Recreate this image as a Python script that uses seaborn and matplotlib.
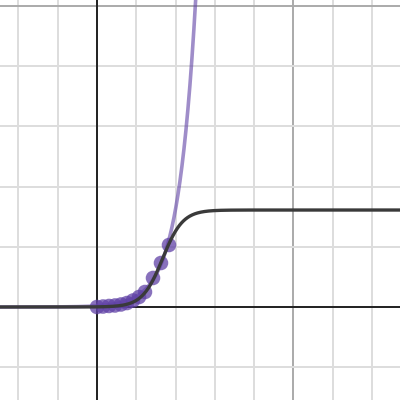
import numpy as np
import pandas as pd
import matplotlib
matplotlib.use("Agg")
import matplotlib.pyplot as plt
import seaborn as sns

# data points (in grid units)
point_x = [0.0, 0.153, 0.305, 0.458, 0.611, 0.763, 0.916, 1.069, 1.221, 1.425, 1.628, 1.832]
point_y = [0.0, 0.008, 0.017, 0.025, 0.042, 0.066, 0.108, 0.166, 0.249, 0.482, 0.731, 1.030]

# exponential model y = a * b^x
exp_a = 0.0187
exp_b = 9.34

# logistic model y = L / (1 + exp(-k (x - x0)))
log_L = 1.611
log_k = 3.9
log_x0 = 1.67

x_min, x_max = -2.468, 7.710
y_min, y_max = -1.545, 5.100

sns.set_style("white")
fig = plt.figure(figsize=(4, 4), dpi=100)
ax = fig.add_axes([0, 0, 1, 1])

xs = np.linspace(x_min, x_max, 2000)
exp_df = pd.DataFrame({"x": xs, "y": exp_a * exp_b ** xs})
exp_df = exp_df[exp_df["y"] < y_max + 1]
log_df = pd.DataFrame({"x": xs, "y": log_L / (1 + np.exp(-log_k * (xs - log_x0)))})
pts = pd.DataFrame({"x": point_x, "y": point_y})

# grid
for v in np.arange(-2, 8, 1):
    ax.axvline(v, color="#aaaaaa" if v % 5 == 0 else "#dddddd", lw=1.4, zorder=0)
for v in np.arange(-1, 6, 1):
    ax.axhline(v, color="#aaaaaa" if v % 5 == 0 else "#dddddd", lw=1.4, zorder=0)
ax.axvline(0, color="#222222", lw=1.4, zorder=1)
ax.axhline(0, color="#222222", lw=1.4, zorder=1)

sns.scatterplot(data=pts, x="x", y="y", ax=ax, s=110, color="#6042a6", alpha=0.75,
                edgecolor="none", zorder=2, legend=False)
sns.lineplot(data=exp_df, x="x", y="y", ax=ax, color="#6042a6", alpha=0.6, lw=2.6,
             zorder=3, sort=False, estimator=None)
sns.lineplot(data=log_df, x="x", y="y", ax=ax, color="#3a3a3a", lw=2.4,
             zorder=4, sort=False, estimator=None)

ax.set_xlim(x_min, x_max)
ax.set_ylim(y_min, y_max)
ax.set_xticks([])
ax.set_yticks([])
ax.set_xlabel("")
ax.set_ylabel("")
for s in ax.spines.values():
    s.set_visible(False)

fig.savefig("out.png", dpi=100)
